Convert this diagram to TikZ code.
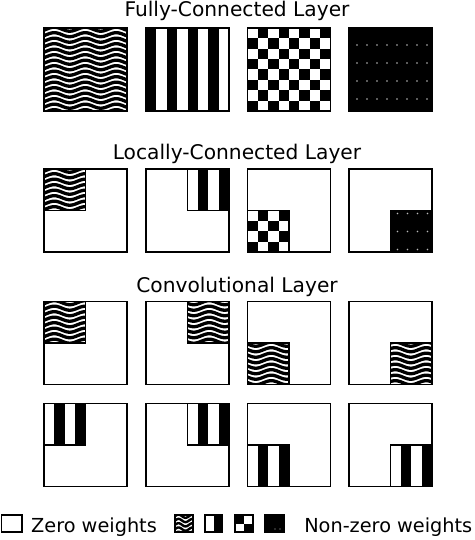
\documentclass[tikz,border=0pt]{standalone}
\usepackage{fontspec}
\setmainfont{DejaVu Sans}
\newcommand\pWavy[9]{% x y w h nlines spacing lw amp period
  \begin{scope}
    \clip (#1,#2) rectangle ++(#3,#4);
    \foreach \k in {0,...,#5}{
      \draw[line width=#7pt] plot[domain={#1-2}:{#1+#3+2}, samples=60, smooth, variable=\t]
        (\t, {#2+1.2+\k*#6+#8*sin((\t)/#9*360)});
    }
  \end{scope}}
\newcommand\pStripes[6]{% x y w h n list-of-black
  \pgfmathsetmacro\sw{#3/#5}
  \foreach \k in {#6}{\fill (#1+\k*\sw,#2) rectangle ++(\sw,#4);}}
\newcommand\pChecker[6]{% x y w h n parity
  \pgfmathsetmacro\cw{#3/#5}
  \pgfmathsetmacro\ch{#4/#5}
  \pgfmathtruncatemacro\nn{#5-1}
  \foreach \i in {0,...,\nn}{\foreach \j in {0,...,\nn}{
    \pgfmathtruncatemacro\cpar{mod(\i+\j+#6,2)}
    \ifnum\cpar=1 \fill (#1+\i*\cw,#2+\j*\ch) rectangle ++(\cw,\ch);\fi}}}
\newcommand\pDots[8]{% x y w h xoff yoff ncol nrow
  \fill (#1,#2) rectangle ++(#3,#4);
  \foreach \i in {1,...,#7}{\foreach \j in {1,...,#8}{
    \fill[gray!55] (#1+#5+\i*10-10,#2+#6+\j*18-18) circle (0.8);}}}
\tikzset{frame/.style={line width=1.6pt},
  ttl/.style={font=\fontsize{20.2}{24}\selectfont, anchor=base},
  leg/.style={font=\fontsize{19.3}{23}\selectfont, inner sep=0pt}}
\begin{document}
\begin{tikzpicture}[x=1pt,y=-1pt]
\useasboundingbox[fill=white] (0,0) rectangle (474,540);
\def\bs{83}\def\hs{41.5}
% titles
\node[ttl] (t1) at (237,17) {Fully-Connected Layer};
\node[ttl] (t2) at (237,160) {Locally-Connected Layer};
\node[ttl] (t3) at (237,292) {Convolutional Layer};
% ---- row 1 (fully connected)
\def\Y{28}
\pWavy{44}{\Y}{\bs}{\bs}{15}{5.5}{3.3}{2}{31}
\draw[frame] (44,\Y) rectangle ++(\bs,\bs);
\pStripes{146}{\Y}{\bs}{\bs}{8}{0,2,4,6}
\draw[frame] (146,\Y) rectangle ++(\bs,\bs);
\pChecker{247.5}{\Y}{\bs}{\bs}{8}{0}
\draw[frame] (247.5,\Y) rectangle ++(\bs,\bs);
\pDots{349}{\Y}{\bs}{\bs}{8}{17}{8}{4}
\draw[frame] (349,\Y) rectangle ++(\bs,\bs);
% ---- row 2 (locally connected)
\def\Y{169}
\pWavy{44}{\Y}{\hs}{\hs}{8}{5.5}{3.3}{2}{31}
\draw[frame] (44,\Y) rectangle ++(\hs,\hs);
\draw[frame] (44,\Y) rectangle ++(\bs,\bs);
\pStripes{187.5}{\Y}{\hs}{\hs}{4}{1,3}
\draw[frame] (187.5,\Y) rectangle ++(\hs,\hs);
\draw[frame] (146,\Y) rectangle ++(\bs,\bs);
\pChecker{247.5}{\Y+\hs}{\hs}{\hs}{4}{0}
\draw[frame] (247.5,\Y+\hs) rectangle ++(\hs,\hs);
\draw[frame] (247.5,\Y) rectangle ++(\bs,\bs);
\pDots{390.5}{\Y+\hs}{\hs}{\hs}{7}{3}{4}{3}
\draw[frame] (390.5,\Y+\hs) rectangle ++(\hs,\hs);
\draw[frame] (349,\Y) rectangle ++(\bs,\bs);
% ---- row 3 (convolutional, wavy)
\def\Y{301.5}
\pWavy{44}{\Y}{\hs}{\hs}{8}{5.5}{3.3}{2}{31}
\draw[frame] (44,\Y) rectangle ++(\hs,\hs);
\draw[frame] (44,\Y) rectangle ++(\bs,\bs);
\pWavy{187.5}{\Y}{\hs}{\hs}{8}{5.5}{3.3}{2}{31}
\draw[frame] (187.5,\Y) rectangle ++(\hs,\hs);
\draw[frame] (146,\Y) rectangle ++(\bs,\bs);
\pWavy{247.5}{\Y+\hs}{\hs}{\hs}{8}{5.5}{3.3}{2}{31}
\draw[frame] (247.5,\Y+\hs) rectangle ++(\hs,\hs);
\draw[frame] (247.5,\Y) rectangle ++(\bs,\bs);
\pWavy{390.5}{\Y+\hs}{\hs}{\hs}{8}{5.5}{3.3}{2}{31}
\draw[frame] (390.5,\Y+\hs) rectangle ++(\hs,\hs);
\draw[frame] (349,\Y) rectangle ++(\bs,\bs);
% ---- row 4 (convolutional, stripes)
\def\Y{403.5}
\pStripes{44}{\Y}{\hs}{\hs}{4}{1,3}
\draw[frame] (44,\Y) rectangle ++(\hs,\hs);
\draw[frame] (44,\Y) rectangle ++(\bs,\bs);
\pStripes{187.5}{\Y}{\hs}{\hs}{4}{1,3}
\draw[frame] (187.5,\Y) rectangle ++(\hs,\hs);
\draw[frame] (146,\Y) rectangle ++(\bs,\bs);
\pStripes{247.5}{\Y+\hs}{\hs}{\hs}{4}{1,3}
\draw[frame] (247.5,\Y+\hs) rectangle ++(\hs,\hs);
\draw[frame] (247.5,\Y) rectangle ++(\bs,\bs);
\pStripes{390.5}{\Y+\hs}{\hs}{\hs}{4}{1,3}
\draw[frame] (390.5,\Y+\hs) rectangle ++(\hs,\hs);
\draw[frame] (349,\Y) rectangle ++(\bs,\bs);
% ---- legend
\draw[frame] (1.5,515) rectangle (22,532);
\node[leg, anchor=base west] (lz) at (31,532) {Zero weights};
\pWavy{175}{515}{18}{17}{4}{4.3}{2.4}{1.6}{14}
\draw[frame] (175,515) rectangle (193,532);
\pStripes{205}{515}{17}{17}{2}{1}
\draw[frame] (205,515) rectangle (222,532);
\pChecker{235}{515}{18}{17}{2}{1}
\draw[frame] (235,515) rectangle (253,532);
\fill (265,515) rectangle (284,532);
\fill[gray!55] (275,529) circle (0.6) (280,529) circle (0.6);
\draw[frame] (265,515) rectangle (284,532);
\node[leg, anchor=base east] (lnz) at (472.5,532) {Non-zero weights};
\end{tikzpicture}
\end{document}
